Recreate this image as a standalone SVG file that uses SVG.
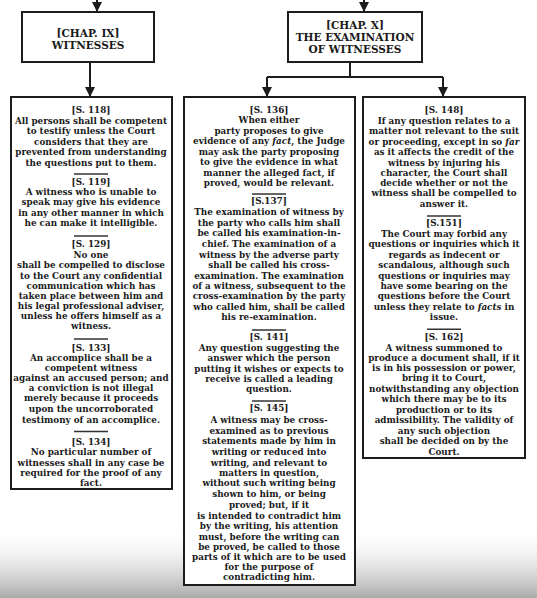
<svg xmlns="http://www.w3.org/2000/svg" width="537" height="598" viewBox="0 0 537 598">
<style>
.box{fill:#fff;stroke:#1c1c1c;stroke-width:2}
.t{font-family:"DejaVu Serif","Liberation Serif",serif;font-weight:bold;font-size:8.8px;text-anchor:middle;fill:#1a1a1a}
.h{font-size:10.5px}
.rule{stroke:#333;stroke-width:1.4}
.edge{stroke:#1c1c1c;stroke-width:2;fill:none}
</style>
<defs>
<marker id="arr" viewBox="0 0 10 10" refX="9" refY="5" markerWidth="5" markerHeight="5" orient="auto"><path d="M0,0 L10,5 L0,10 z" fill="#1c1c1c"/></marker>
<linearGradient id="shade" x1="0" y1="0" x2="0" y2="1"><stop offset="0" stop-color="#fff" stop-opacity="0"/><stop offset="1" stop-color="#a9a9a9"/></linearGradient>
</defs>
<rect width="537" height="598" fill="#fff"/>
<rect x="0" y="525" width="537" height="73" fill="url(#shade)"/>

<g id="connectors">
<path class="edge" d="M97,0 V11" marker-end="url(#arr)"/>
<path class="edge" d="M364,0 V11" marker-end="url(#arr)"/>
<path class="edge" d="M90,62 V96" marker-end="url(#arr)"/>
<path class="edge" d="M350,62 V77 M267,77 H443"/>
<path class="edge" d="M267,77 V96" marker-end="url(#arr)"/>
<path class="edge" d="M443,77 V96" marker-end="url(#arr)"/>
</g>

<g id="chap9">
<rect class="box" x="22" y="12" width="132" height="50"/>
<text class="t h" x="88" y="37">[CHAP. IX]</text>
<text class="t h" x="88" y="48.5">WITNESSES</text>
</g>

<g id="chap10">
<rect class="box" x="288" y="12" width="134" height="50"/>
<text class="t h" x="355" y="29">[CHAP. X]</text>
<text class="t h" x="355" y="41">THE EXAMINATION</text>
<text class="t h" x="355" y="52.5">OF WITNESSES</text>
</g>

<g id="left">
<rect class="box" x="11" y="97" width="161" height="392"/>
<text class="t" x="91" y="112.5">[S. 118]</text>
<text class="t" x="91" y="123.5">All persons shall be competent</text>
<text class="t" x="91" y="134">to testify unless the Court</text>
<text class="t" x="91" y="144.5">considers that they are</text>
<text class="t" x="91" y="155">prevented from understanding</text>
<text class="t" x="91" y="165.5">the questions put to them.</text>
<line class="rule" x1="74" y1="174" x2="108" y2="174"/>
<text class="t" x="91" y="184.5">[S. 119]</text>
<text class="t" x="91" y="195">A witness who is unable to</text>
<text class="t" x="91" y="205.2">speak may give his evidence</text>
<text class="t" x="91" y="215.5">in any other manner in which</text>
<text class="t" x="91" y="226">he can make it intelligible.</text>
<line class="rule" x1="74" y1="236" x2="108" y2="236"/>
<text class="t" x="91" y="246.5">[S. 129]</text>
<text class="t" x="91" y="257.5">No one</text>
<text class="t" x="91" y="268">shall be compelled to disclose</text>
<text class="t" x="91" y="278.5">to the Court any confidential</text>
<text class="t" x="91" y="288.5">communication which has</text>
<text class="t" x="91" y="298.5">taken place between him and</text>
<text class="t" x="91" y="308.5">his legal professional adviser,</text>
<text class="t" x="91" y="319">unless he offers himself as a</text>
<text class="t" x="91" y="329">witness.</text>
<line class="rule" x1="74" y1="339" x2="108" y2="339"/>
<text class="t" x="91" y="350.8">[S. 133]</text>
<text class="t" x="91" y="360.8">An accomplice shall be a</text>
<text class="t" x="91" y="371">competent witness</text>
<text class="t" x="91" y="381">against an accused person; and</text>
<text class="t" x="91" y="391">a conviction is not illegal</text>
<text class="t" x="91" y="401">merely because it proceeds</text>
<text class="t" x="91" y="411.8">upon the uncorroborated</text>
<text class="t" x="91" y="422.5">testimony of an accomplice.</text>
<line class="rule" x1="74" y1="431.5" x2="108" y2="431.5"/>
<text class="t" x="91" y="445">[S. 134]</text>
<text class="t" x="91" y="455">No particular number of</text>
<text class="t" x="91" y="465.7">witnesses shall in any case be</text>
<text class="t" x="91" y="475.7">required for the proof of any</text>
<text class="t" x="91" y="485.7">fact.</text>
</g>

<g id="middle">
<rect class="box" x="184" y="97" width="171" height="488"/>
<text class="t" x="269" y="112.5">[S. 136]</text>
<text class="t" x="269" y="122.8">When either</text>
<text class="t" x="269" y="133.5">party proposes to give</text>
<text class="t" x="269" y="144.2">evidence of any <tspan font-style="italic">fact</tspan>, the Judge</text>
<text class="t" x="269" y="155">may ask the party proposing</text>
<text class="t" x="269" y="165.2">to give the evidence in what</text>
<text class="t" x="269" y="175.8">manner the alleged fact, if</text>
<text class="t" x="269" y="185.8">proved, would be relevant.</text>
<line class="rule" x1="252" y1="194" x2="286" y2="194"/>
<text class="t" x="269" y="204.2">[S.137]</text>
<text class="t" x="269" y="215.2">The examination of witness by</text>
<text class="t" x="269" y="225.8">the party who calls him shall</text>
<text class="t" x="269" y="236.2">be called his examination-in-</text>
<text class="t" x="269" y="246.8">chief. The examination of a</text>
<text class="t" x="269" y="257.5">witness by the adverse party</text>
<text class="t" x="269" y="267.8">shall be called his cross-</text>
<text class="t" x="269" y="278.5">examination. The examination</text>
<text class="t" x="269" y="289.2">of a witness, subsequent to the</text>
<text class="t" x="269" y="299.2">cross-examination by the party</text>
<text class="t" x="269" y="309.5">who called him, shall be called</text>
<text class="t" x="269" y="320.2">his re-examination.</text>
<line class="rule" x1="252" y1="330" x2="286" y2="330"/>
<text class="t" x="269" y="339.5">[S. 141]</text>
<text class="t" x="269" y="350.8">Any question suggesting the</text>
<text class="t" x="269" y="361.2">answer which the person</text>
<text class="t" x="269" y="371.8">putting it wishes or expects to</text>
<text class="t" x="269" y="381.8">receive is called a leading</text>
<text class="t" x="269" y="391.8">question.</text>
<line class="rule" x1="252" y1="401" x2="286" y2="401"/>
<text class="t" x="269" y="410.5">[S. 145]</text>
<text class="t" x="269" y="422.5">A witness may be cross-</text>
<text class="t" x="269" y="433.5">examined as to previous</text>
<text class="t" x="269" y="444.2">statements made by him in</text>
<text class="t" x="269" y="455.2">writing or reduced into</text>
<text class="t" x="269" y="465.8">writing, and relevant to</text>
<text class="t" x="269" y="475.8">matters in question,</text>
<text class="t" x="269" y="486.2">without such writing being</text>
<text class="t" x="269" y="496.8">shown to him, or being</text>
<text class="t" x="269" y="507.5">proved; but, if it</text>
<text class="t" x="269" y="518.5">is intended to contradict him</text>
<text class="t" x="269" y="529.2">by the writing, his attention</text>
<text class="t" x="269" y="539.5">must, before the writing can</text>
<text class="t" x="269" y="550.2">be proved, be called to those</text>
<text class="t" x="269" y="560.2">parts of it which are to be used</text>
<text class="t" x="269" y="570.2">for the purpose of</text>
<text class="t" x="269" y="580.2">contradicting him.</text>
</g>

<g id="right">
<rect class="box" x="363" y="97" width="162" height="361"/>
<text class="t" x="444" y="112.5">[S. 148]</text>
<text class="t" x="444" y="123.5">If any question relates to a</text>
<text class="t" x="444" y="134.2">matter not relevant to the suit</text>
<text class="t" x="444" y="144.5">or proceeding, except in so <tspan font-style="italic">far</tspan></text>
<text class="t" x="444" y="155.2">as it affects the credit of the</text>
<text class="t" x="444" y="165.8">witness by injuring his</text>
<text class="t" x="444" y="175.8">character, the Court shall</text>
<text class="t" x="444" y="185.8">decide whether or not the</text>
<text class="t" x="444" y="196.2">witness shall be compelled to</text>
<text class="t" x="444" y="206.8">answer it.</text>
<line class="rule" x1="427" y1="216" x2="461" y2="216"/>
<text class="t" x="444" y="226.2">[S.151]</text>
<text class="t" x="444" y="236.8">The Court may forbid any</text>
<text class="t" x="444" y="246.8">questions or inquiries which it</text>
<text class="t" x="444" y="257.8">regards as indecent or</text>
<text class="t" x="444" y="268.2">scandalous, although such</text>
<text class="t" x="444" y="278.5">questions or inquiries may</text>
<text class="t" x="444" y="288.5">have some bearing on the</text>
<text class="t" x="444" y="299.2">questions before the Court</text>
<text class="t" x="444" y="309.5">unless they relate to <tspan font-style="italic">facts</tspan> in</text>
<text class="t" x="444" y="320.2">issue.</text>
<line class="rule" x1="427" y1="329.3" x2="461" y2="329.3"/>
<text class="t" x="444" y="339.5">[S. 162]</text>
<text class="t" x="444" y="350.8">A witness summoned to</text>
<text class="t" x="444" y="361.2">produce a document shall, if it</text>
<text class="t" x="444" y="371.2">is in his possession or power,</text>
<text class="t" x="444" y="381.2">bring it to Court,</text>
<text class="t" x="444" y="391.8">notwithstanding any objection</text>
<text class="t" x="444" y="402">which there may be to its</text>
<text class="t" x="444" y="412.5">production or to its</text>
<text class="t" x="444" y="422.8">admissibility. The validity of</text>
<text class="t" x="444" y="433.5">any such objection</text>
<text class="t" x="444" y="444.2">shall be decided on by the</text>
<text class="t" x="444" y="454.5">Court.</text>
</g>
</svg>
